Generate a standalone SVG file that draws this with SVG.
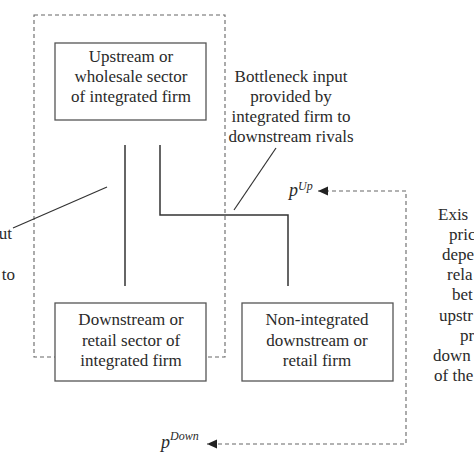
<svg xmlns="http://www.w3.org/2000/svg" width="474" height="474" viewBox="0 0 474 474" font-family="'Liberation Serif', 'Times New Roman', Times, serif">
<style>
text{font-family:'Liberation Serif','Times New Roman',Times,serif;font-size:17px;fill:#2a2a2a}
.c{text-anchor:middle}
.box{fill:#fff;stroke:#555;stroke-width:1.3}
.dash{fill:none;stroke:#666;stroke-width:1.1;stroke-dasharray:4 3}
.ln{fill:none;stroke:#333;stroke-width:1.5}
.thin{fill:none;stroke:#333;stroke-width:1.2}
.it{font-style:italic;font-size:18px}
</style>
<defs>
<marker id="ah" markerUnits="userSpaceOnUse" markerWidth="10" markerHeight="10" viewBox="0 0 10 10" refX="10" refY="5" orient="auto-start-reverse">
<path d="M0,0.5 L10,5 L0,9.5 z" fill="#222"/>
</marker>
</defs>
<rect class="dash" x="34" y="15" width="191" height="342"/>
<g id="connectors">
<line class="ln" x1="125" y1="145" x2="125" y2="286"/>
<path class="ln" d="M160 145 V215 H288 V286"/>
<line class="thin" x1="276" y1="148" x2="234" y2="210"/>
<line class="thin" x1="107" y1="187" x2="13" y2="228"/>
<path class="dash" d="M318 191 H406 V444 H207" marker-start="url(#ah)" marker-end="url(#ah)"/>
</g>
<g id="upstream">
<rect class="box" x="55" y="43" width="151" height="77"/>
<text class="c" x="131" y="62">Upstream or</text>
<text class="c" x="131" y="82">wholesale sector</text>
<text class="c" x="131" y="102">of integrated firm</text>
</g>
<g id="downstream-integrated">
<rect class="box" x="55" y="303" width="151" height="78"/>
<text class="c" x="131" y="325">Downstream or</text>
<text class="c" x="131" y="345.5">retail sector of</text>
<text class="c" x="131" y="366">integrated firm</text>
</g>
<g id="non-integrated">
<rect class="box" x="242" y="303" width="151" height="78"/>
<text class="c" x="317" y="325">Non-integrated</text>
<text class="c" x="317" y="345.5">downstream or</text>
<text class="c" x="317" y="366">retail firm</text>
</g>
<g id="bottleneck-label">
<text class="c" x="291" y="82">Bottleneck input</text>
<text class="c" x="291" y="102">provided by</text>
<text class="c" x="291" y="122">integrated firm to</text>
<text class="c" x="291" y="142">downstream rivals</text>
</g>
<g id="price-labels">
<text class="it" x="289" y="196">p<tspan font-size="12" dy="-6">Up</tspan></text>
<text class="it" x="161" y="448">p<tspan font-size="12" dy="-8">Down</tspan></text>
</g>
<g id="left-label">
<text x="12" y="239" text-anchor="end">ut</text>
<text x="15" y="280" text-anchor="end">to</text>
</g>
<g id="right-label">
<text x="438" y="220">Exis</text>
<text x="449" y="240">pric</text>
<text x="442" y="260">depe</text>
<text x="447" y="280">rela</text>
<text x="452" y="300">bet</text>
<text x="439" y="321">upstr</text>
<text x="460" y="341">pr</text>
<text x="433" y="361">down</text>
<text x="434" y="381">of the</text>
</g>
</svg>
